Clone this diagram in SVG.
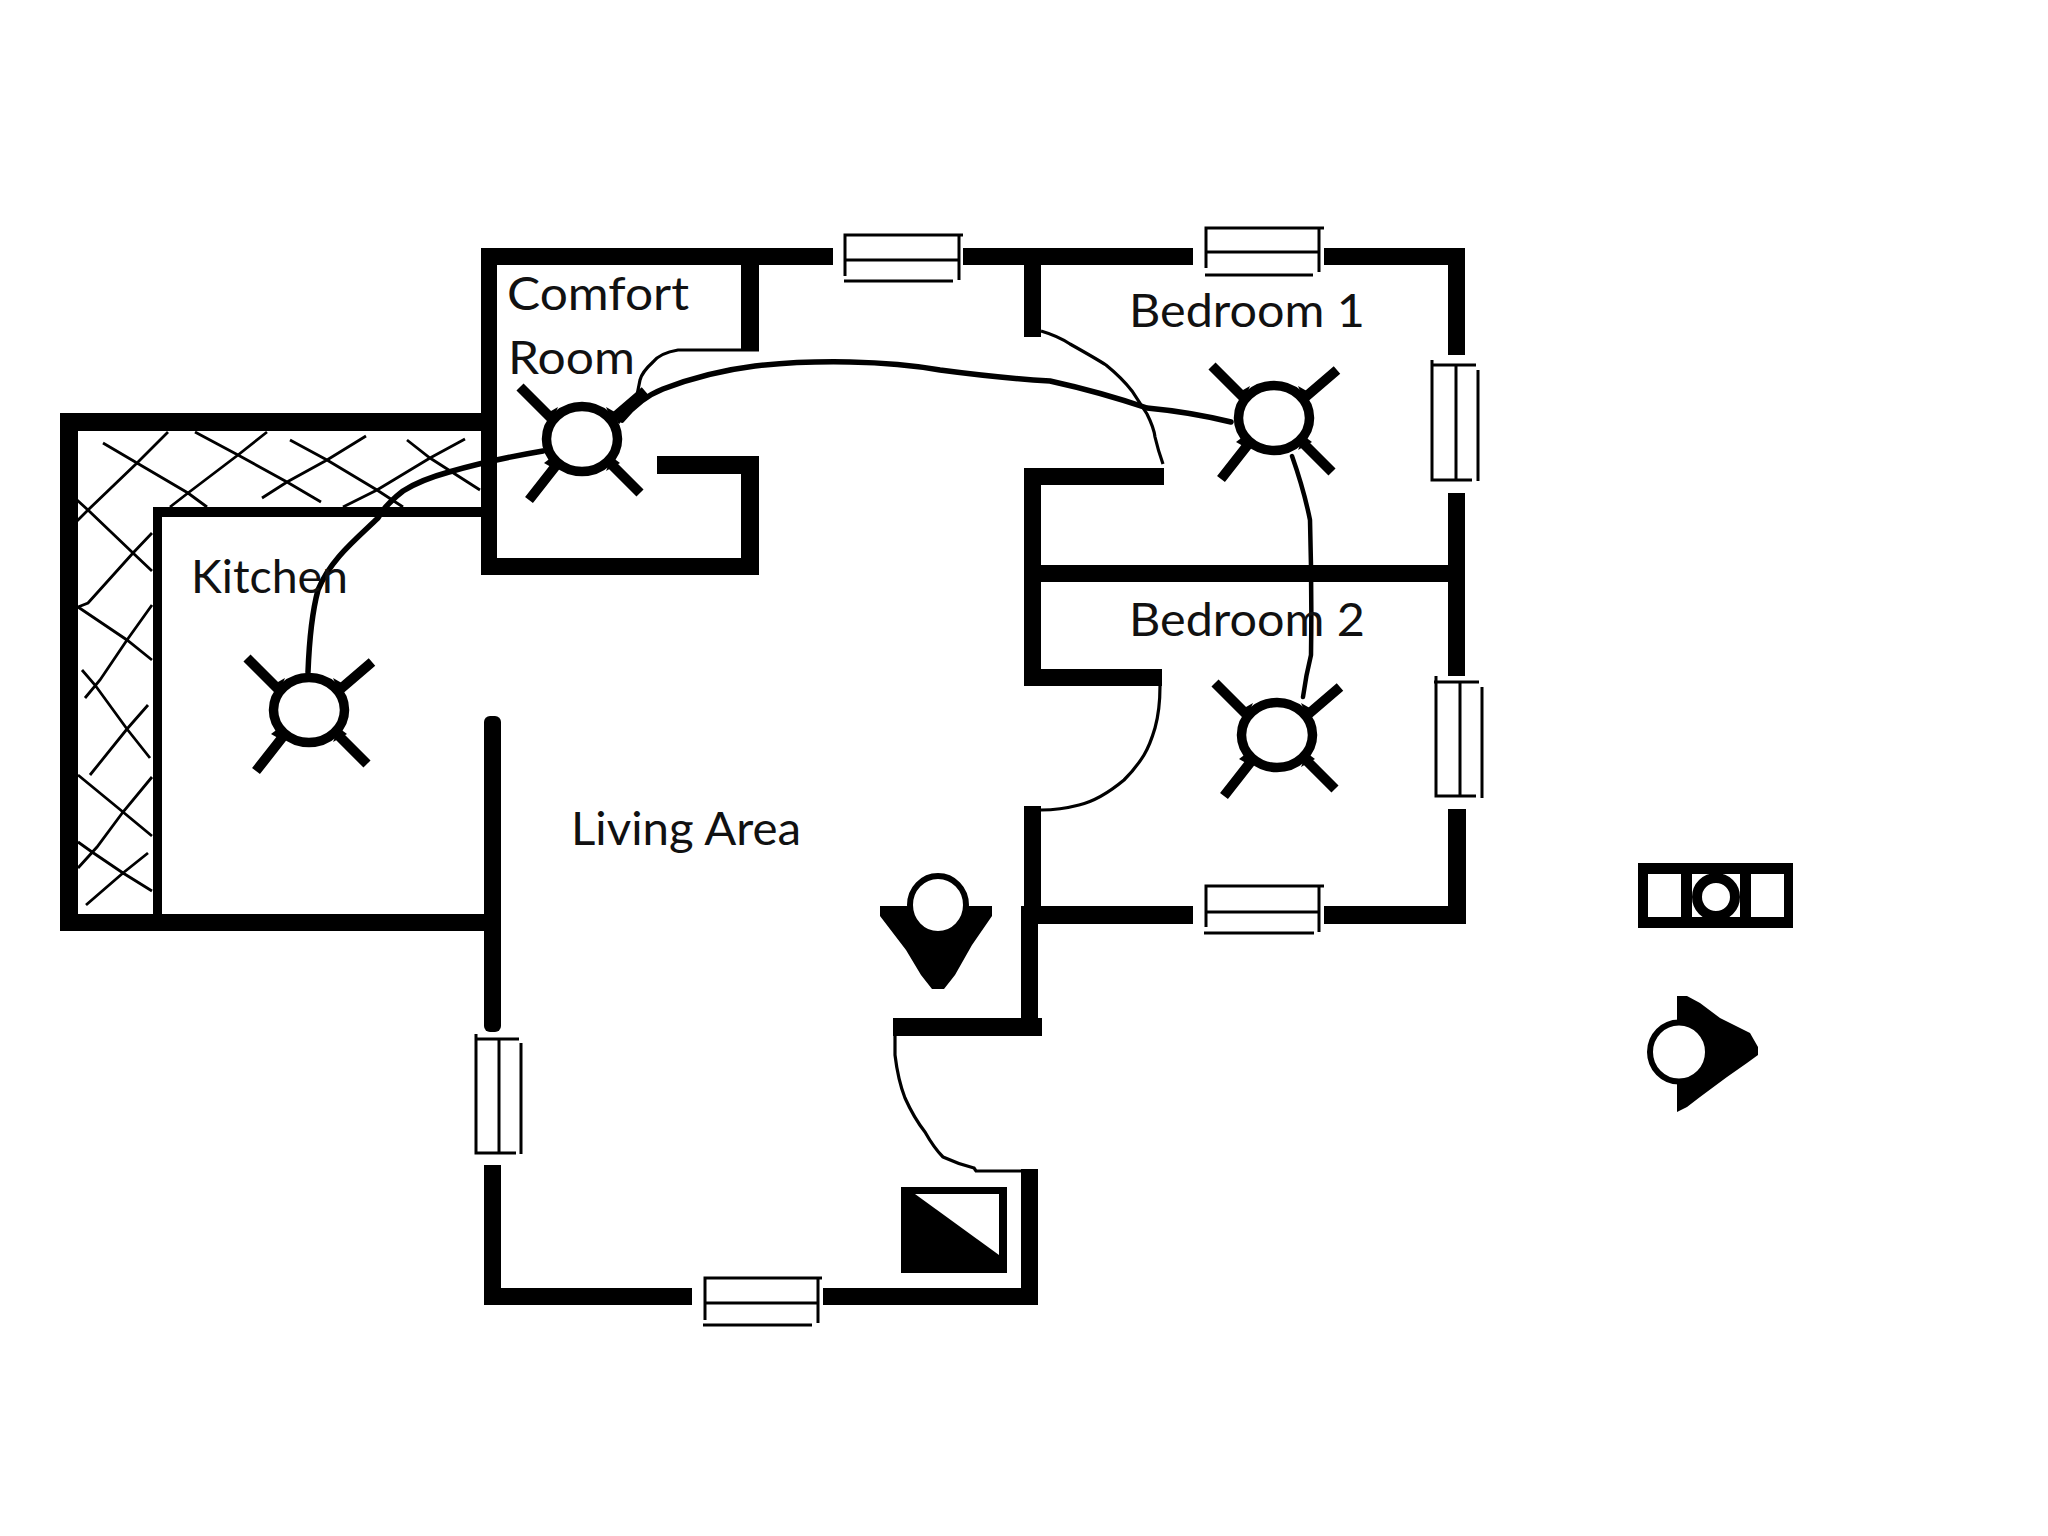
<svg xmlns="http://www.w3.org/2000/svg" xmlns:xlink="http://www.w3.org/1999/xlink" width="2048" height="1536" viewBox="0 0 2048 1536">
<style>
.wall{fill:#000}
.white{fill:#fff}
.win{fill:none;stroke:#000;stroke-width:3}
.hatch{fill:none;stroke:#000;stroke-width:2.800}
.door{fill:none;stroke:#000;stroke-width:3.200}
.wire{fill:none;stroke:#000;stroke-width:5.500;stroke-linejoin:round;stroke-linecap:round}
.arm{fill:none;stroke:#000;stroke-width:10}
.ring{fill:#fff;stroke:#000;stroke-width:9.500}
.lbl{font-family:"Lato","Liberation Sans",sans-serif;font-size:46px;fill:#111}
</style>
<defs>
<g id="lamp">
<path class="arm" d="M-62-52L-28-18M63-48L28-18M-53 61L-24 24M58 54L26 22"/>
<path class="wall" d="M-38-24L-24-32L-30-18ZM38-24L24-32L30-18ZM-38 24L-24 32L-30 18ZM38 24L24 32L30 18Z"/>
<ellipse class="ring" rx="35.500" ry="32.500"/>
</g>
</defs>
<rect width="2048" height="1536" fill="#fff"/>
<g id="hatching">
<path class="hatch" d="M168 432L137 463L88 510L77 521M103 443L137 463L188 493L207 507M267 432L238 455L188 493L170 507M195 432L238 455L287 482L321 502M366 436L327 460L287 482L262 498M290 440L327 460L377 490L403 507M465 439L430 458L377 490L343 507M407 440L430 458L480 490"/>
<path class="hatch" d="M77 500L88 510L133 553L152 571M152 533L133 553L88 603L78 607L127 640L152 660M152 605L127 640L100 680L85 698M82 670L95 685L127 729L150 758M148 705L127 729L90 775M78 775L123 812L152 836M152 777L123 812L97 847L78 868M78 842L92 852L123 873L152 891M148 853L123 873L86 905"/>
</g>
<g id="walls">
<rect class="wall" x="481" y="248" width="352" height="17"/>
<rect class="wall" x="963" y="248" width="230" height="17"/>
<rect class="wall" x="1324" y="248" width="141" height="17"/>
<rect class="wall" x="481" y="248" width="16" height="327"/>
<rect class="wall" x="741" y="248" width="18" height="102"/>
<rect class="wall" x="60" y="413" width="421" height="18"/>
<rect class="wall" x="60" y="413" width="18" height="518"/>
<rect class="wall" x="153" y="507" width="328" height="10"/>
<rect class="wall" x="153" y="507" width="9" height="424"/>
<rect class="wall" x="481" y="558" width="278" height="17"/>
<rect class="wall" x="741" y="456" width="18" height="119"/>
<rect class="wall" x="657" y="456" width="102" height="18"/>
<rect class="wall" x="60" y="914" width="424" height="17"/>
<rect class="wall" x="484" y="716" width="17" height="316" rx="6"/>
<rect class="wall" x="484" y="1165" width="17" height="140"/>
<rect class="wall" x="484" y="1288" width="208" height="17"/>
<rect class="wall" x="823" y="1288" width="215" height="17"/>
<rect class="wall" x="1021" y="1169" width="17" height="136"/>
<rect class="wall" x="1024" y="248" width="17" height="89"/>
<rect class="wall" x="1024" y="468" width="140" height="17"/>
<rect class="wall" x="1024" y="468" width="17" height="218"/>
<rect class="wall" x="1041" y="565" width="424" height="17"/>
<rect class="wall" x="1024" y="669" width="138" height="17"/>
<rect class="wall" x="1448" y="248" width="17" height="107"/>
<rect class="wall" x="1448" y="493" width="17" height="183"/>
<rect class="wall" x="1448" y="809" width="18" height="115"/>
<rect class="wall" x="1024" y="806" width="17" height="110"/>
<rect class="wall" x="1021" y="906" width="17" height="128"/>
<rect class="wall" x="893" y="1018" width="149" height="18"/>
<rect class="wall" x="1038" y="906" width="155" height="18"/>
<rect class="wall" x="1324" y="906" width="142" height="18"/>
</g>
<g id="windows">
<path id="window-top-left" class="win" d="M845 276V235H963M959 235V280M845 260H960M844 281H953"/>
<path id="window-top-right" class="win" d="M1206 268V228H1324M1319 228V272M1206 252H1320M1205 275H1313"/>
<path id="window-right-upper" class="win" d="M1432 360V480H1472M1432 365H1476M1456 365V480M1478 370V481"/>
<path id="window-right-lower" class="win" d="M1436 676V796H1476M1434 682H1479M1460 682V796M1482 687V798"/>
<path id="window-bottom-right" class="win" d="M1206 927V886H1324M1319 886V932M1206 912H1320M1204 933H1314"/>
<path id="window-bottom" class="win" d="M705 1320V1278H822M818 1278V1323M705 1303H819M703 1325H812"/>
<path id="window-left" class="win" d="M476 1034V1153H516M476 1039H519M499 1039V1153M521 1043V1154"/>
</g>
<g id="doors">
<path class="door" d="M759 350H678Q660 353 653 362Q642 372 640 380L637 395L618 423"/>
<path class="door" d="M1041 331Q1058 336 1070 344Q1095 358 1106 365Q1122 378 1132 391L1147 414Q1154 428 1155 437Q1158 450 1163 464"/>
<path class="door" d="M1160 686Q1160 710 1155 728Q1150 745 1144 755Q1136 768 1124 780Q1100 800 1079 805Q1060 810 1041 810"/>
<path class="door" d="M895 1036V1055Q898 1080 905 1098Q914 1118 925 1132Q934 1148 943 1157Q958 1164 974 1168L976 1171H1021"/>
</g>
<g id="connectors">
<path class="wire" d="M622 420Q640 398 663 389Q707 372 755 366Q800 361 850 362Q900 363 940 370Q1000 378 1050 381Q1100 392 1147 408Q1190 412 1231 422"/>
<path class="wire" d="M543 451Q490 460 449 472Q420 480 403 491Q385 505 378 518C355 540 330 560 318 590Q310 620 308 672"/>
<path class="wire" style="stroke-width:4.500" d="M1292 456Q1304 490 1310 520Q1312 590 1311 655Q1306 675 1303 697"/>
</g>
<g id="lamp-comfort"><use xlink:href="#lamp" href="#lamp" x="582" y="439"/></g>
<g id="lamp-kitchen"><use xlink:href="#lamp" href="#lamp" x="309" y="710"/></g>
<g id="lamp-bedroom1"><use xlink:href="#lamp" href="#lamp" x="1274" y="418"/></g>
<g id="lamp-bedroom2"><use xlink:href="#lamp" href="#lamp" x="1277" y="735"/></g>
<g id="sensor-down">
<path class="wall" d="M880 906V916L906 950L921 975L932 989H944L955 975L972 945L992 916V906Z"/>
<ellipse cx="938" cy="905" rx="28" ry="29" fill="#fff" stroke="#000" stroke-width="6"/>
</g>
<g id="panel">
<rect class="wall" x="901" y="1187" width="106" height="86"/>
<path class="white" d="M915 1194H999V1255Z"/>
</g>
<g id="legend-switch">
<rect class="wall" x="1638" y="863" width="155" height="65"/>
<rect class="white" x="1648" y="874" width="33" height="43"/>
<rect class="white" x="1751" y="874" width="33" height="43"/>
<rect class="white" x="1692" y="874" width="48" height="43"/>
<circle cx="1716" cy="897" r="19" fill="#fff" stroke="#000" stroke-width="10"/>
<rect class="wall" x="1698" y="863" width="36" height="11"/>
</g>
<g id="legend-sensor">
<path class="wall" d="M1677 996H1687L1700 1003L1720 1018L1750 1033L1758 1047V1055L1747 1063L1727 1077L1700 1097L1687 1107L1677 1112Z"/>
<ellipse cx="1679" cy="1052" rx="29" ry="29.500" fill="#fff" stroke="#000" stroke-width="6"/>
</g>
<g id="labels">
<text class="lbl" x="507" y="310" textLength="182" lengthAdjust="spacingAndGlyphs">Comfort</text>
<text class="lbl" x="508" y="374" textLength="127" lengthAdjust="spacingAndGlyphs">Room</text>
<text class="lbl" x="191" y="593" textLength="157" lengthAdjust="spacingAndGlyphs">Kitchen</text>
<text class="lbl" x="1129" y="327" textLength="236" lengthAdjust="spacingAndGlyphs">Bedroom 1</text>
<text class="lbl" x="1129" y="636" textLength="236" lengthAdjust="spacingAndGlyphs">Bedroom 2</text>
<text class="lbl" x="571" y="845" textLength="230" lengthAdjust="spacingAndGlyphs">Living Area</text>
</g>
</svg>
